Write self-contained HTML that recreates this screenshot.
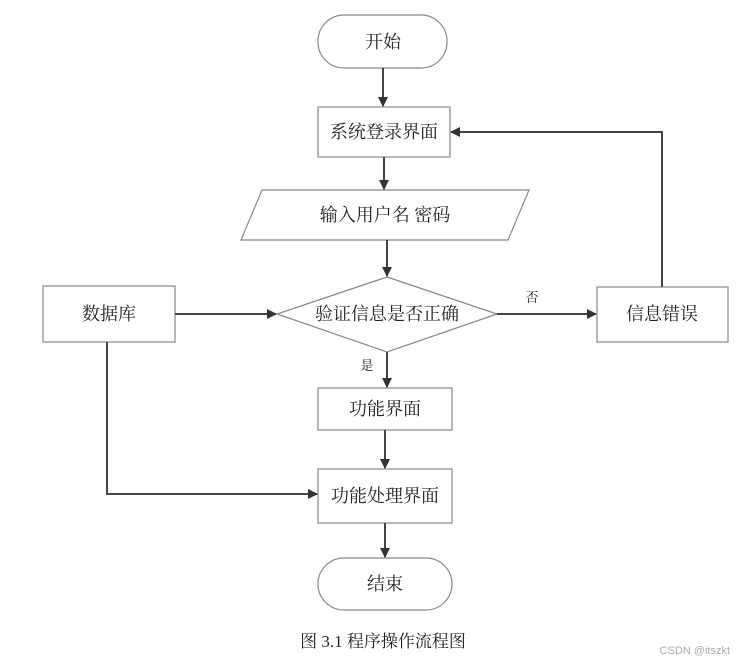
<!DOCTYPE html>
<html><head><meta charset="utf-8"><style>
body{margin:0;background:#fff;}
svg text{font-family:"Liberation Serif","Noto Serif CJK SC",serif;fill:#222;}
</style></head><body>
<svg width="746" height="663" viewBox="0 0 746 663" xmlns="http://www.w3.org/2000/svg">
<defs><marker id="a" markerWidth="10" markerHeight="10" refX="9" refY="5" orient="auto" markerUnits="userSpaceOnUse"><path d="M0,0 L10,5 L0,10 z" fill="#333"/></marker></defs>
<g fill="#fff" stroke="#888" stroke-width="1.2">
<rect x="318" y="15" width="129" height="53" rx="26"/>
<rect x="318" y="107" width="132" height="50"/>
<polygon points="262,190 529,190 508,240 241,240"/>
<polygon points="387,277 497,314 387,352 277,314"/>
<rect x="43" y="286" width="132" height="56"/>
<rect x="597" y="287" width="131" height="55"/>
<rect x="318" y="388" width="134" height="42"/>
<rect x="318" y="469" width="134" height="54"/>
<rect x="318" y="558" width="134" height="52" rx="26"/>
</g>
<g stroke="#444" stroke-width="2" fill="none" marker-end="url(#a)">
<line x1="383" y1="68" x2="383" y2="106"/>
<line x1="384" y1="157" x2="384" y2="189"/>
<line x1="387" y1="240" x2="387" y2="276"/>
<line x1="175" y1="314" x2="276" y2="314"/>
<line x1="497" y1="314" x2="596" y2="314"/>
<line x1="387" y1="352" x2="387" y2="387"/>
<line x1="385" y1="430" x2="385" y2="468"/>
<line x1="385" y1="523" x2="385" y2="557"/>
<polyline points="662,287 662,132 451,132"/>
<polyline points="107,342 107,494 317,494"/>
</g>
<g font-size="18" text-anchor="middle">
<text x="383" y="48">开始</text>
<text x="384" y="138">系统登录界面</text>
<text x="385" y="221">输入用户名 密码</text>
<text x="387" y="320">验证信息是否正确</text>
<text x="109" y="320">数据库</text>
<text x="662" y="320">信息错误</text>
<text x="385" y="415">功能界面</text>
<text x="385" y="502">功能处理界面</text>
<text x="385" y="590">结束</text>
</g>
<text x="532" y="302" font-size="13" text-anchor="middle">否</text>
<text x="367" y="370" font-size="13" text-anchor="middle">是</text>
<text x="383" y="647" font-size="17" text-anchor="middle">图 3.1  程序操作流程图</text>
<text x="730" y="654" font-size="11" text-anchor="end" style="fill:#aaa;font-family:'Liberation Sans',sans-serif">CSDN @itszkt</text>
</svg>
</body></html>
